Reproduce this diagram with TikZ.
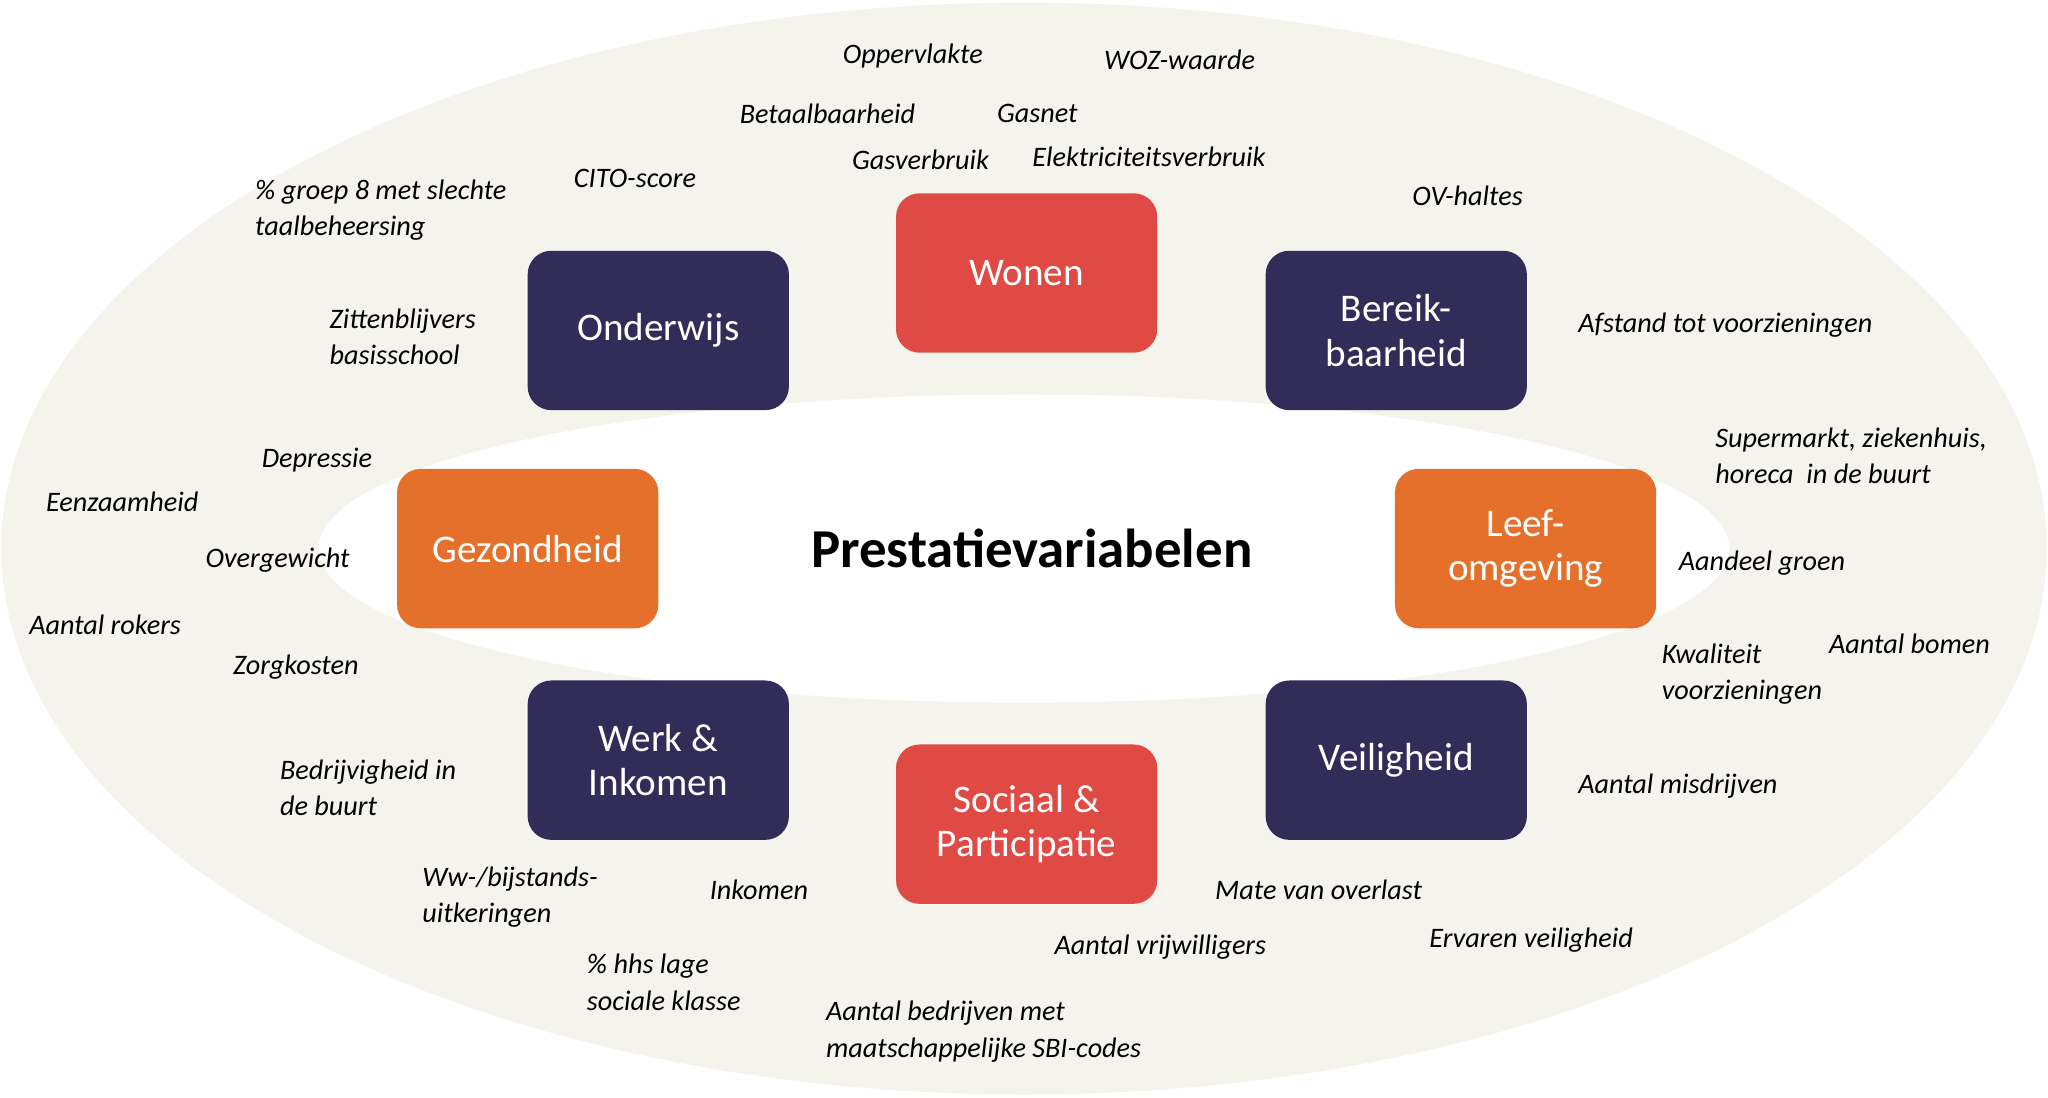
\documentclass[tikz,border=0pt]{standalone}
\usepackage{fontspec}
\setmainfont{Carlito}
\definecolor{bg}{HTML}{F5F4EC}
\definecolor{navy}{HTML}{312C58}
\definecolor{redc}{HTML}{E04A45}
\definecolor{orc}{HTML}{E5702B}
\begin{document}
\begin{tikzpicture}[x=0.5pt,y=-0.5pt,
 box/.style={draw=none,rounded corners=9pt,minimum width=100pt,minimum height=61pt,text=white,font=\fontsize{15}{17}\selectfont,align=center},
 lab/.style={anchor=west,font=\fontsize{10.8}{14}\selectfont\itshape,align=left,inner sep=0pt}]
\useasboundingbox (0,0) rectangle (1568,840);
\fill[bg] (784,420) ellipse [x radius=783,y radius=418];
\fill[white] (784,420) ellipse [x radius=540,y radius=118];
\node[box,fill=redc] (wonen) at (786,209) {Wonen};
\node[box,fill=navy] (ond) at (504,253) {Onderwijs};
\node[box,fill=navy] (ber) at (1069,253) {Bereik-\\baarheid};
\node[box,fill=orc] (gez) at (404,420) {Gezondheid};
\node[box,fill=orc] (leef) at (1168,420) {Leef-\\omgeving};
\node[box,fill=navy] (werk) at (504,582) {Werk \&\\Inkomen};
\node[box,fill=redc] (soc) at (786,631) {Sociaal \&\\Participatie};
\node[box,fill=navy] (veil) at (1069,582) {Veiligheid};
\node[font=\fontsize{21}{24}\selectfont\bfseries] (title) at (790,420) {Prestatievariabelen};
\node[lab] (l1) at (645,43) {Oppervlakte};
\node[lab] (l2) at (845,46) {WOZ-waarde};
\node[lab] (l3) at (566,87) {Betaalbaarheid};
\node[lab] (l4) at (763,87) {Gasnet};
\node[lab] (l5) at (652,122) {Gasverbruik};
\node[lab] (l6) at (790,120) {Elektriciteitsverbruik};
\node[lab] (l7) at (439,137) {CITO-score};
\node[lab] (l8) at (195,161) {\% groep 8 met slechte\\taalbeheersing};
\node[lab] (l9) at (1081,150) {OV-haltes};
\node[lab] (l10) at (252,258) {Zittenblijvers\\basisschool};
\node[lab] (l11) at (1208,249) {Afstand tot voorzieningen};
\node[lab] (l12) at (1313,349) {Supermarkt, ziekenhuis,\\horeca\ \ in de buurt};
\node[lab] (l13) at (200,352) {Depressie};
\node[lab] (l14) at (35,384) {Eenzaamheid};
\node[lab] (l15) at (157,429) {Overgewicht};
\node[lab] (l16) at (1285,431) {Aandeel groen};
\node[lab] (l17) at (22,478) {Aantal rokers};
\node[lab] (l18) at (178,511) {Zorgkosten};
\node[lab] (l19) at (1400,493) {Aantal bomen};
\node[lab] (l20) at (1272,516) {Kwaliteit\\voorzieningen};
\node[lab] (l21) at (214,603) {Bedrijvigheid in\\de buurt};
\node[lab] (l22) at (1208,602) {Aantal misdrijven};
\node[lab] (l23) at (323,687) {Ww-/bijstands-\\uitkeringen};
\node[lab] (l24) at (543,681) {Inkomen};
\node[lab] (l25) at (930,681) {Mate van overlast};
\node[lab] (l26) at (807,725) {Aantal vrijwilligers};
\node[lab] (l27) at (1094,720) {Ervaren veiligheid};
\node[lab] (l28) at (449,752) {\% hhs lage\\sociale klasse};
\node[lab] (l29) at (632,790) {Aantal bedrijven met\\maatschappelijke SBI-codes};
\end{tikzpicture}
\end{document}
